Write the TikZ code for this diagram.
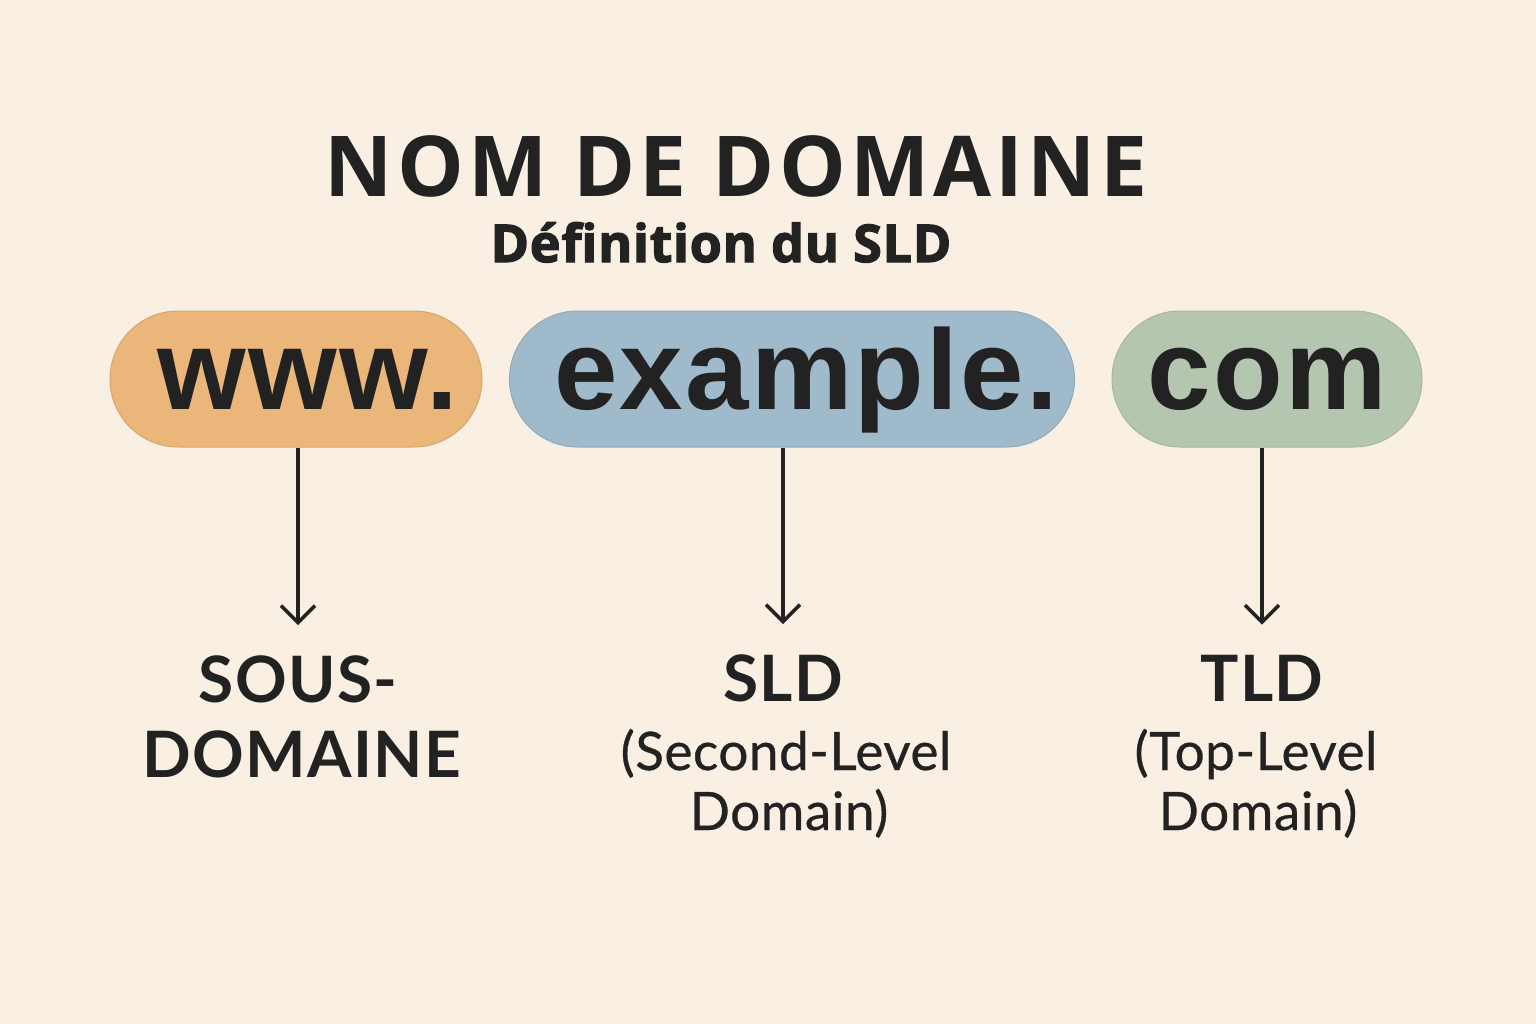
\documentclass[tikz,border=0pt]{standalone}
\usepackage{fontspec}
\usetikzlibrary{arrows.meta}
\newfontfamily\titlefont[LetterSpace=5]{Open Sans}
\newfontfamily\deffont[FakeBold=2.5,LetterSpace=1.5]{Open Sans}
\newfontfamily\pillfont[LetterSpace=2]{Liberation Sans}
\newfontfamily\labfont[LetterSpace=2]{Lato}
\newfontfamily\labsubfont[LetterSpace=1,FakeBold=0.6]{Lato}
\definecolor{bgc}{HTML}{F9EFE3}
\definecolor{ink}{HTML}{222222}
\definecolor{orangep}{HTML}{EBB679}
\definecolor{bluep}{HTML}{9FBACB}
\definecolor{greenp}{HTML}{B5C6B0}
\tikzset{
  pill/.style={rounded corners=68pt, minimum height=136pt, inner sep=0pt,
    text height=61pt, text depth=0pt, text=ink, line width=1pt,
    font=\pillfont\bfseries\fontsize{114}{114}\selectfont},
  labbold/.style={anchor=base, inner sep=0pt, text=ink,
    font=\labfont\bfseries\fontsize{64}{64}\selectfont},
  labsub/.style={anchor=base, inner sep=0pt, text=ink,
    font=\labsubfont\fontsize{53}{53}\selectfont},
  arr/.style={-{Straight Barb[length=17pt,width=34pt]}, line width=3.5pt, draw=ink, shorten >=30pt}
}
\begin{document}
\begin{tikzpicture}[x=1pt,y=-1pt]
\fill[bgc] (0,0) rectangle (1536,1024);
\useasboundingbox (0,0) rectangle (1536,1024);
% titles
\node[anchor=base, inner sep=0pt, text=ink, font=\titlefont\bfseries\fontsize{84}{84}\selectfont] (title) at (736,197) {NOM DE DOMAINE};
\node[anchor=base, inner sep=0pt, text=ink, font=\deffont\bfseries\fontsize{52}{52}\selectfont] (sub) at (721,262) {Définition du SLD};
% pills
\node[pill, fill=orangep, draw=orangep!92!black, minimum width=372pt] (www) at (296,379) {\hspace*{24pt}www.};
\node[pill, fill=bluep, draw=bluep!92!black, minimum width=565pt] (ex) at (792,379) {\hspace*{28pt}example.};
\node[pill, fill=greenp, draw=greenp!92!black, minimum width=310pt] (com) at (1267,379) {com};
% labels
\node[labbold] (sous1) at (298,702) {SOUS-};
\node[labbold] (sous2) at (302,777) {DOMAINE};
\node[labbold] (sld) at (783,701) {SLD};
\node[labsub] (sld1) at (786,770) {(Second-Level};
\node[labsub] (sld2) at (789,830) {Domain)};
\node[labbold] (tld) at (1262,701) {TLD};
\node[labsub] (tld1) at (1256,770) {(Top-Level};
\node[labsub] (tld2) at (1258,830) {Domain)};
% arrows
\draw[arr] (www.south -| sous1.north) -- (sous1.north);
\draw[arr] (ex.south -| sld.north) -- (sld.north);
\draw[arr] (com.south -| tld.north) -- (tld.north);
\end{tikzpicture}
\end{document}
